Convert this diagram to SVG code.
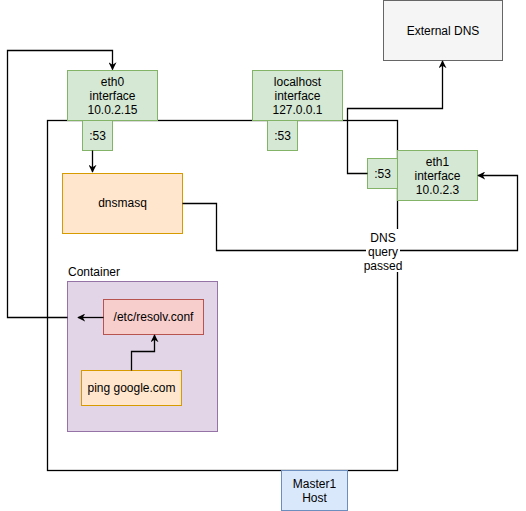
<svg xmlns="http://www.w3.org/2000/svg" width="526" height="511" viewBox="0 0 526 511">
<style>
text{font-family:"Liberation Sans",Arial,sans-serif;font-size:12px;fill:#000;text-anchor:middle}
.g{fill:#d5e8d4;stroke:#82b366}
.o{fill:#ffe6cc;stroke:#d79b00}
.c{fill:none;stroke:#000;stroke-width:1.3}
</style>
<defs>
<marker id="ah" viewBox="0 0 10 10" refX="9" refY="5" markerWidth="8" markerHeight="8" markerUnits="userSpaceOnUse" orient="auto">
<path d="M0,0 L10,5 L0,10 L3,5 Z" fill="#000"/>
</marker>
</defs>
<rect width="526" height="511" fill="#fff"/>
<g id="host">
<rect x="47.5" y="120.5" width="350" height="350" fill="none" stroke="#000" stroke-width="1.3"/>
</g>
<g id="master1">
<rect x="281.5" y="470.5" width="66" height="40" fill="#dae8fc" stroke="#6c8ebf"/>
<text x="314.5" y="488">Master1</text>
<text x="314.5" y="502">Host</text>
</g>
<g id="container">
<rect x="67.5" y="281.5" width="150" height="150" fill="#e1d5e7" stroke="#9673a6"/>
<text x="68" y="276" style="text-anchor:start">Container</text>
</g>
<g id="external-dns">
<rect x="383.5" y="0.5" width="119" height="60" fill="#f5f5f5" stroke="#666666"/>
<text x="443" y="35">External DNS</text>
</g>
<g id="eth0">
<rect class="g" x="67.5" y="70.5" width="90" height="50"/>
<text x="112.5" y="86">eth0</text>
<text x="112.5" y="100">interface</text>
<text x="112.5" y="114">10.0.2.15</text>
</g>
<g id="eth0-port">
<rect class="g" x="82.5" y="120.5" width="30" height="30"/>
<text x="97.5" y="140">:53</text>
</g>
<g id="localhost">
<rect class="g" x="252.5" y="70.5" width="90" height="50"/>
<text x="297.5" y="86">localhost</text>
<text x="297.5" y="100">interface</text>
<text x="297.5" y="114">127.0.0.1</text>
</g>
<g id="localhost-port">
<rect class="g" x="267.5" y="120.5" width="30" height="30"/>
<text x="282.5" y="140">:53</text>
</g>
<g id="eth1">
<rect class="g" x="397.5" y="150.5" width="80" height="50"/>
<text x="437.5" y="166">eth1</text>
<text x="437.5" y="180">interface</text>
<text x="437.5" y="194">10.0.2.3</text>
</g>
<g id="eth1-port">
<rect class="g" x="367.5" y="158.5" width="30" height="30"/>
<text x="382.5" y="178">:53</text>
</g>
<g id="dnsmasq">
<rect class="o" x="62.5" y="173.5" width="120" height="60"/>
<text x="122.5" y="207">dnsmasq</text>
</g>
<g id="resolv">
<rect x="103.5" y="299.5" width="100" height="35" fill="#f8cecc" stroke="#b85450"/>
<text x="153.5" y="321">/etc/resolv.conf</text>
</g>
<g id="ping">
<rect class="o" x="81.5" y="370.5" width="100" height="35"/>
<text x="131.5" y="392">ping google.com</text>
</g>
<g id="connectors">
<path class="c" d="M92.5,150.5 V172" marker-end="url(#ah)"/>
<path class="c" d="M67.5,317.5 H7.5 V50.5 H112.5 V69.5" marker-end="url(#ah)"/>
<path class="c" d="M103.5,317.5 H78" marker-end="url(#ah)"/>
<path class="c" d="M131.5,370.5 V351.5 H154.5 V335" marker-end="url(#ah)"/>
<path class="c" d="M367.5,173.5 H347.5 V108.5 H442.5 V61" marker-end="url(#ah)"/>
<path class="c" d="M182.5,203.5 H216.5 V250.5 H517.5 V175.5 H478" marker-end="url(#ah)"/>
<rect x="366" y="229" width="34" height="43" fill="#fff"/>
<text x="383" y="242">DNS</text>
<text x="383" y="256">query</text>
<text x="383" y="270">passed</text>
</g>
</svg>
